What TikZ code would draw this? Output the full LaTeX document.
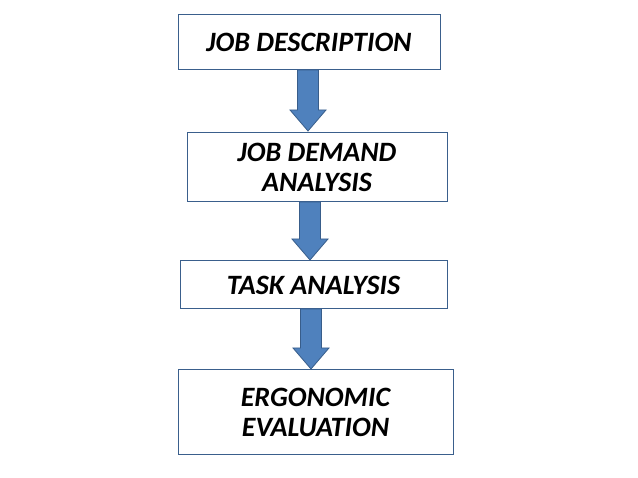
\documentclass[tikz,border=0pt]{standalone}
\usepackage{fontspec}
\setmainfont{Carlito}
\usetikzlibrary{calc}
\definecolor{ablue}{HTML}{4F81BD}
\definecolor{aedge}{HTML}{385D8A}
\definecolor{bedge}{HTML}{3A5F8C}
\tikzset{
  box/.style={draw=bedge, line width=1pt, fill=white, align=center, font=\fontsize{28}{30}\selectfont\bfseries\itshape},
  barrow/.style={fill=ablue, draw=aedge, line width=0.8pt}
}
\newcommand{\blockarrow}[2]{%
  \path let \p1=(#1.south), \p2=(#2.north) in
   [barrow] (\x1-10.5pt,\y1) -- (\x1+10.5pt,\y1) -- (\x1+10.5pt,\y2+21pt) -- (\x1+18pt,\y2+21pt)
   -- (\x1,\y2) -- (\x1-18pt,\y2+21pt) -- (\x1-10.5pt,\y2+21pt) -- cycle;}
\begin{document}
\begin{tikzpicture}[x=1pt,y=-1pt]
\useasboundingbox (0,0) rectangle (638,478);
\node[box, minimum width=262pt, minimum height=55pt] (a) at (309,42.5) {JOB DESCRIPTION};
\node[box, minimum width=260pt, minimum height=69pt] (b) at (317,167.5) {JOB DEMAND\\ANALYSIS};
\node[box, minimum width=267pt, minimum height=48pt] (c) at (313.5,285) {TASK ANALYSIS};
\node[box, minimum width=275pt, minimum height=85pt] (d) at (315.5,412.5) {ERGONOMIC\\EVALUATION};
\coordinate (as) at (308,70); \coordinate (bn) at (308,131);
\coordinate (bs) at (310,202); \coordinate (cn) at (310,260);
\coordinate (cs) at (311,309); \coordinate (dn) at (311,369);
\blockarrow{as}{bn}
\blockarrow{bs}{cn}
\blockarrow{cs}{dn}
\end{tikzpicture}
\end{document}
